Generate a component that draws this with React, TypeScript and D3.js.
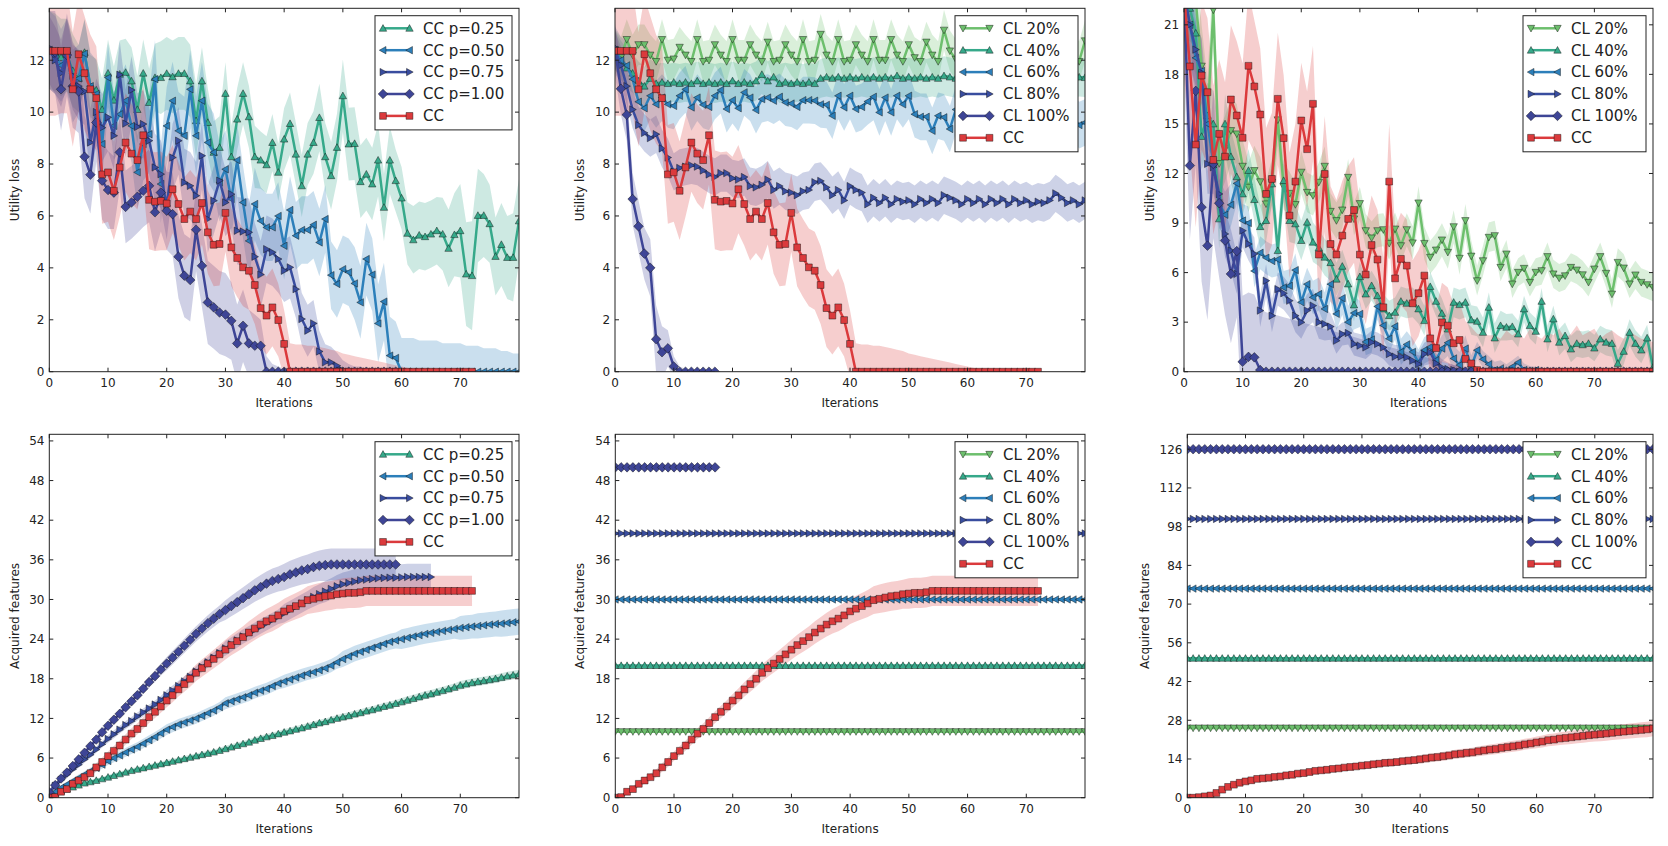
import React from "react";
import * as d3 from "d3";

// ---------------- shared axis data ----------------
const X_TICKS = [0, 10, 20, 30, 40, 50, 60, 70];
const X_MAX = 80;
const LOSS_TICKS = [0, 2, 4, 6, 8, 10, 12];
const LOSS3_TICKS = [0, 3, 6, 9, 12, 15, 18, 21];
const FEAT_TICKS = [0, 6, 12, 18, 24, 30, 36, 42, 48, 54];
const FEAT6_TICKS = [0, 14, 28, 42, 56, 70, 84, 98, 112, 126];

const CC_P_LABELS = ["CC p=0.25", "CC p=0.50", "CC p=0.75", "CC p=1.00", "CC"];
const CL_LABELS = ["CL 20%", "CL 40%", "CL 60%", "CL 80%", "CL 100%", "CC"];

// ---------------- panel 1 : utility loss, CC p ----------------
const p1_p25 = [12.4,12.3,12.1,12.2,11.6,11.3,12.3,11.0,10.85,10.1,
  11.5,10.46,11.46,11.53,11.2,10.1,11.5,10.37,11.33,11.33,
  11.49,11.36,11.49,11.49,11.2,9.67,11.2,9.6,8.45,8.64,
  10.72,8.28,9.73,10.72,9.82,8.28,8.15,7.97,8.83,7.68,
  8.96,9.56,8.38,7.16,8.38,8.83,9.79,8.28,7.55,8.64,
  10.63,8.77,8.79,7.32,7.61,7.23,8.15,6.33,8.15,7.36,
  6.69,5.33,5.08,5.26,5.2,5.3,5.43,5.3,4.75,5.28,
  5.43,3.76,3.7,6.02,6.02,5.7,4.44,4.9,4.4,4.4,5.81];
const p1_p25_sd = [1.5,1.5,1.5,1.4,1.4,1.3,1.3,1.2,1.2,1.2,
  1.3,1.3,1.3,1.3,1.3,1.3,1.3,1.3,1.3,1.4,
  1.4,1.4,1.4,1.4,1.4,1.4,1.3,1.3,1.2,1.2,
  1.2,1.2,1.2,1.2,1.2,1.2,1.1,1.1,1.1,1.1,
  1.2,1.2,1.2,1.2,1.2,1.2,1.3,1.3,1.3,1.3,
  1.4,1.4,1.4,1.4,1.4,1.4,1.4,1.3,1.3,1.2,
  1.2,1.2,1.3,1.3,1.3,1.3,1.3,1.4,1.5,1.6,
  1.8,2.0,2.1,1.8,1.6,1.5,1.5,1.6,1.6,1.7,1.6];
const p1_p50 = [12.4,12.2,11.8,12.2,11.0,11.3,12.25,11.0,10.7,8.77,
  11.33,9.47,9.92,10.44,9.47,7.68,8.77,9.15,11.27,7.23,
  9.47,10.44,9.28,9.09,10.88,9.09,10.44,8.83,8.45,7.29,
  7.8,6.65,8.15,6.52,5.04,6.46,5.81,5.56,5.56,6.0,
  4.85,6.23,5.24,5.46,5.46,5.66,4.98,5.88,3.72,3.38,
  3.95,3.83,3.4,2.67,4.34,3.74,1.86,2.7,0.62,0.53,
  0,0,0,0,0,0,0,0,0,0,
  0,0,0,0,0,0,0,0,0,0,0];
const p1_p50_sd = [1.5,1.5,1.4,1.4,1.4,1.3,1.3,1.3,1.3,1.3,
  1.3,1.3,1.4,1.4,1.4,1.4,1.4,1.5,1.5,1.5,
  1.5,1.5,1.5,1.5,1.5,1.5,1.5,1.5,1.5,1.5,
  1.5,1.4,1.4,1.4,1.4,1.4,1.3,1.3,1.3,1.3,
  1.3,1.3,1.3,1.3,1.3,1.3,1.3,1.3,1.3,1.3,
  1.3,1.3,1.4,1.4,1.4,1.4,1.5,1.5,1.5,1.4,
  1.3,1.3,1.3,1.2,1.2,1.2,1.2,1.1,1.1,1.1,
  1.1,1.0,1.0,1.0,0.9,0.9,0.9,0.8,0.8,0.7,0.7];
const p1_p75 = [12.4,12.0,11.5,12.3,11.4,11.0,10.8,8.83,10.0,9.4,
  9.8,9.09,11.44,9.56,10.85,9.43,9.54,8.9,7.87,7.61,
  6.39,8.25,8.9,7.29,7.16,6.78,8.32,5.88,6.59,7.36,
  6.52,6.84,5.43,5.4,5.37,4.43,3.74,4.72,4.6,4.34,
  3.89,4.02,3.18,2.03,1.58,1.86,0.78,0.36,0.36,0.23,
  0.04,0,0,0,0,0,0,0,0,0,
  0,0,0,0,0,0];
const p1_p75_sd = [1.3,1.3,1.3,1.3,1.3,1.3,1.3,1.3,1.3,1.3,
  1.3,1.3,1.3,1.3,1.3,1.3,1.3,1.3,1.3,1.3,
  1.3,1.3,1.3,1.3,1.3,1.3,1.3,1.3,1.3,1.3,
  1.3,1.3,1.3,1.3,1.3,1.3,1.3,1.3,1.3,1.3,
  1.2,1.2,1.1,1.0,1.0,0.9,0.8,0.7,0.6,0.5,
  0.4,0.3,0.2,0.2,0.1,0.1,0.1,0,0,0,
  0,0,0,0,0,0];
const p1_p100 = [12.4,12.3,10.88,12.2,11.0,10.8,8.28,7.59,9.6,7.36,
  7.0,6.9,8.45,6.35,6.52,6.74,6.97,7.16,6.14,6.9,
  6.2,6.07,4.43,3.7,3.53,5.47,4.08,2.67,2.48,2.28,
  2.2,1.96,1.09,1.77,1.09,1.0,1.0,0,0,0,
  0,0,0,0,0,0,0,0,0,0,
  0,0,0,0,0,0,0,0,0,0];
const p1_p100_sd = [1.5,1.6,1.6,1.6,1.6,1.6,1.6,1.5,1.5,1.5,
  1.5,1.4,1.4,1.4,1.4,1.4,1.4,1.4,1.5,1.5,
  1.5,1.6,1.6,1.6,1.6,1.6,1.6,1.6,1.6,1.6,
  1.6,1.5,1.5,1.4,1.3,1.2,1.0,0.6,0.3,0.2,
  0.1,0.05,0,0,0,0,0,0,0,0,
  0,0,0,0,0,0,0,0,0,0];
// CC loss (shared by panels 1 and 2)
const cc_loss = [12.36,12.36,12.36,12.36,10.88,12.23,11.5,10.88,10.54,7.6,
  7.68,6.97,7.87,8.83,8.4,8.15,9.11,6.62,6.55,6.58,
  6.48,7.03,6.46,5.88,6.17,5.88,6.5,5.37,4.89,4.92,
  6.12,4.79,4.38,4.02,3.89,3.34,2.45,2.16,2.48,1.99,
  1.07,0,0,0,0,0,0,0,0,0,
  0,0,0,0,0,0,0,0,0,0,
  0,0,0,0,0,0,0,0,0,0,
  0,0,0];
const cc_loss_sd = [2.5,2.5,2.4,2.4,2.2,2.2,2.2,2.1,2.0,1.9,
  1.9,1.9,1.9,1.9,1.9,1.9,1.9,1.9,1.9,1.9,
  1.8,1.7,1.6,1.6,1.6,1.6,1.6,1.6,1.6,1.6,
  1.5,1.5,1.5,1.5,1.5,1.5,1.5,1.5,1.5,1.4,
  1.3,1.1,1.05,1.05,1.0,1.0,0.95,0.9,0.85,0.8,
  0.7,0.65,0.6,0.55,0.5,0.45,0.4,0.35,0.3,0.25,
  0.2,0.15,0.1,0.1,0.05,0.05,0.05,0.05,0.05,0.05,
  0.05,0.05,0.05];

// ---------------- panel 2 : utility loss, CL ----------------
const p2_cl20 = [12.4,12.1,12.8,12.2,12.6,12.6,12.2,11.95,12.8,12.0,
  12.05,12.5,12.2,11.95,12.8,11.95,12.0,12.6,12.2,11.95,
  12.8,12.0,12.0,12.6,12.2,11.95,12.7,11.95,12.0,12.6,
  12.2,11.95,12.8,11.95,12.0,13.0,12.2,11.95,12.8,11.95,
  12.0,12.6,12.2,11.95,12.8,12.0,12.0,12.8,12.2,11.95,
  12.6,12.1,11.95,12.7,12.2,11.95,13.16,12.36,12.04,12.7,
  12.2,11.95,12.8,12.0,12.0,12.6,12.2,11.95,12.8,12.0,
  12.0,12.6,12.2,11.95,12.8,12.0,12.0,12.6,12.2,11.95,12.75];
const p2_cl20_sd = 0.78;
const p2_cl40 = [12.4,12.0,11.7,11.5,11.2,11.0,11.3,11.1,11.15,11.1,
  11.15,11.1,11.15,11.1,11.2,11.1,11.15,11.1,11.15,11.1,
  11.2,11.1,11.15,11.1,11.2,11.45,11.2,11.35,11.1,11.15,
  11.1,11.15,11.1,11.15,11.1,11.3,11.35,11.3,11.35,11.3,
  11.35,11.3,11.35,11.3,11.35,11.3,11.35,11.3,11.4,11.3,
  11.35,11.3,11.35,11.3,11.35,11.3,11.4,11.35,11.3,11.35,
  11.3,11.35,11.3,11.35,11.3,11.4,11.3,11.35,11.3,11.35,
  11.3,11.35,11.3,11.35,11.3,11.4,11.3,11.35,11.3,11.35,11.33];
const p2_cl40_sd = 0.75;
const p2_cl60 = [12.4,12.0,11.8,11.27,10.4,10.15,10.63,10.3,10.56,10.3,
  10.24,10.63,10.88,10.18,10.56,10.28,10.2,10.63,10.85,10.12,
  10.46,10.15,10.76,10.56,10.08,10.5,10.56,10.44,10.59,10.37,
  10.33,10.2,10.46,10.46,10.44,10.3,10.28,9.86,10.63,10.18,
  10.63,10.12,10.2,10.41,10.59,9.99,10.56,9.99,10.63,10.3,
  10.63,9.92,9.82,9.82,9.28,9.86,9.8,9.35,10.1,9.6,
  10.3,10.5,9.9,10.4,9.8,10.2,9.4,9.9,10.3,9.7,
  10.2,9.5,10.0,9.8,10.3,9.6,10.0,9.5,9.8,9.5,9.6];
const p2_cl60_sd = 0.9;
const p2_cl80 = [12.4,11.8,11.0,10.1,9.5,9.2,9.0,9.15,8.6,8.25,
  7.7,7.85,7.9,7.95,7.9,7.75,7.6,7.5,7.65,7.65,
  7.45,7.4,7.5,7.15,7.1,7.2,7.4,7.0,7.15,6.95,
  6.9,6.8,6.95,7.0,7.3,7.35,7.1,6.8,7.0,6.6,
  7.15,7.0,6.9,6.45,6.7,6.5,6.7,6.45,6.65,6.55,
  6.6,6.45,6.65,6.5,6.65,6.5,6.8,6.7,6.6,6.45,
  6.65,6.5,6.65,6.45,6.65,6.5,6.65,6.45,6.65,6.5,
  6.6,6.45,6.55,6.5,6.6,6.87,6.7,6.5,6.6,6.45,6.6];
const p2_cl80_sd = 0.72;
const p2_cl100 = [12.4,10.9,9.9,6.65,5.6,4.55,4.0,1.25,0.75,0.9,0.2,0,0,0,0,0,0,0];
const p2_cl100_sd = [1.0,1.0,1.0,1.0,1.0,1.0,1.1,1.3,1.0,0.7,0.4,0.2,0.1,0.05,0,0,0,0];

// ---------------- panel 3 : utility loss, CL (second dataset) ----------------
const p3_cl20 = [23,23,22.5,18.5,15.2,21.9,12.6,13.5,14.6,14.4,
  12.44,11.17,12.18,11.5,10.16,11.47,15.25,11.2,10.8,10.12,
  12.08,10.86,10.66,11.47,12.44,9.71,9.15,9.79,11.77,9.25,
  10.18,8.54,8.1,8.54,8.6,7.77,8.64,7.63,8.6,7.8,
  10.22,7.77,6.93,7.37,7.98,7.23,8.78,6.87,9.15,7.0,
  5.51,6.72,8.14,8.24,6.32,7.13,5.31,6.02,6.26,5.41,
  6.02,6.12,6.97,5.92,5.67,5.81,6.32,6.16,5.87,5.41,
  6.22,6.97,5.96,4.7,6.62,6.28,5.31,5.86,5.41,5.27,5.11];
const p3_cl20_sd = [3,3,3,2.5,2.5,2.5,2,2,2,1.8,
  1.6,1.5,1.5,1.5,1.4,1.4,1.6,1.4,1.3,1.3,
  1.3,1.2,1.2,1.2,1.2,1.1,1.1,1.1,1.1,1.0,
  1.0,1.0,1.0,1.0,1.0,1.0,1.0,1.0,1.0,1.0,
  1.0,1.0,1.0,1.0,1.0,1.0,1.0,1.0,1.0,0.95,
  0.9,0.9,0.9,0.9,0.85,0.85,0.85,0.85,0.85,0.85,
  0.85,0.85,0.85,0.85,0.85,0.85,0.85,0.85,0.85,0.85,
  0.85,0.85,0.85,0.85,0.85,0.85,0.85,0.85,0.85,0.85,0.85];
const p3_cl40 = [23,22,20.5,14.24,15.5,15.0,9.25,15.0,13.02,11.8,
  10.76,12.18,10.42,8.78,9.15,11.37,7.33,11.57,9.15,8.95,
  7.94,9.05,7.84,7.5,6.93,6.6,5.6,6.38,5.31,4.04,
  5.75,4.7,5.21,4.6,3.8,3.39,3.59,4.26,4.14,4.2,
  3.8,3.09,5.15,4.26,3.53,2.58,4.2,4.06,4.2,3.13,
  3.05,2.38,3.9,2.04,2.79,2.69,2.73,2.28,3.8,2.79,
  2.44,4.26,1.98,3.19,1.78,2.18,1.37,1.71,1.63,1.71,
  1.43,1.98,1.78,1.71,0.5,1.23,2.38,1.71,1.31,2.04,0.26];
const p3_cl40_sd = [3,3,2.5,2,2,2,1.8,1.8,1.6,1.5,
  1.3,1.3,1.3,1.3,1.3,1.3,1.3,1.3,1.3,1.2,
  1.2,1.2,1.2,1.1,1.1,1.1,1.0,1.0,1.0,1.0,
  0.9,0.9,0.9,0.9,0.9,0.9,0.9,0.9,0.9,0.9,
  0.9,0.9,0.9,0.9,0.9,0.9,0.9,0.9,0.9,0.9,
  0.9,0.9,0.9,0.9,0.9,0.8,0.8,0.8,0.8,0.8,
  0.8,0.8,0.8,0.8,0.8,0.8,0.8,0.8,0.8,0.8,
  0.8,0.8,0.8,0.8,0.8,0.8,0.8,0.8,0.8,0.8,0.8];
const p3_cl60 = [23,21,19,18.2,15.0,12.7,10.2,9.5,10.1,11.4,
  9.15,9.0,6.1,7.2,6.9,6.7,6.8,5.1,5.2,6.15,
  4.2,5.3,4.5,4.7,3.8,5.3,3.5,4.45,3.0,3.55,
  3.5,1.8,1.95,3.95,2.8,2.0,2.75,1.2,1.65,1.2,
  0.55,1.3,1.5,0.7,1.4,1.75,0.8,0.4,1.4,0.3,
  1.3,0.75,0.45,0.1,0.2,0.05,0.3,0.56,0.1,0.05,
  0.1,0,0,0,0,0,0,0,0,0,
  0,0,0,0,0,0,0,0,0,0,0];
const p3_cl60_sd = [2.5,2.5,2,2,1.8,1.6,1.5,1.4,1.3,1.2,
  1.0,1.0,1.0,1.0,1.0,1.0,1.0,1.0,1.0,1.0,
  1.0,1.0,1.0,1.0,1.0,1.0,1.0,1.0,1.0,1.0,
  0.8,0.8,0.8,0.8,0.8,0.8,0.8,0.8,0.8,0.8,
  0.8,0.8,0.8,0.8,0.8,0.8,0.8,0.8,0.8,0.7,
  0.5,0.5,0.5,0.5,0.5,0.4,0.4,0.4,0.4,0.3,
  0.2,0.2,0.2,0.2,0.2,0.2,0.2,0.2,0.2,0.2,
  0.2,0.2,0.2,0.2,0.2,0.2,0.2,0.2,0.2,0.2,0.2];
const p3_cl80 = [23,21,19.5,18.1,12.58,12.38,10.76,8.34,7.33,5.92,
  8.54,7.73,7.13,3.7,5.51,3.39,5.0,4.75,4.3,3.39,
  2.99,3.7,4.0,2.99,2.89,2.73,1.88,2.28,2.34,1.68,
  1.58,1.47,1.78,1.68,1.47,1.07,0.91,0.91,0.87,0.67,
  0.46,1.07,1.17,0.5,0.26,0.16,0.1,0,0,0,
  0,0,0,0,0,0,0,0,0,0,
  0,0,0,0,0,0,0,0,0,0,
  0,0,0,0,0,0,0,0,0,0,0];
const p3_cl80_sd = [2.5,2.4,2.2,2.0,1.8,1.6,1.5,1.4,1.3,1.2,
  1.0,1.0,1.0,1.0,1.0,1.0,1.0,1.0,1.0,1.0,
  1.0,1.0,1.0,1.0,1.0,0.8,0.8,0.7,0.7,0.7,
  0.7,0.7,0.7,0.7,0.7,0.7,0.7,0.7,0.7,0.7,
  0.7,0.7,0.7,0.6,0.5,0.4,0.3,0.3,0.3,0.3,
  0.3,0.2,0.2,0.2,0.2,0.1,0.1,0.1,0.1,0.1,
  0.1,0.1,0.1,0.1,0.1,0.1,0.1,0.1,0.1,0.1,
  0.1,0.1,0.1,0.1,0.1,0.1,0.1,0.1,0.1,0.1,0.1];
const p3_cl100 = [23,12.48,17.0,9.96,7.63,12.58,10.2,7.94,5.92,7.3,
  0.6,0.9,0.87,0.1,0,0,0,0,0,0,
  0,0,0,0,0,0,0,0,0,0,
  0,0,0,0,0,0,0,0,0,0,
  0,0,0,0,0,0,0,0,0,0,
  0,0,0,0,0,0,0,0,0,0,
  0,0,0,0,0,0,0,0,0,0,
  0,0,0,0,0,0,0,0,0,0,0];
const p3_cl100_sd = [4.5,4.5,4.5,4.5,4.5,4.5,4.5,4.5,4.2,4.0,
  4.0,3.9,3.8,3.7,3.6,3.5,3.4,3.3,3.2,3.1,
  3.0,2.9,2.8,2.7,2.6,2.5,2.4,2.3,2.2,2.1,
  2.0,1.9,1.8,1.7,1.6,1.5,1.4,1.3,1.2,1.1,
  1.0,0.9,0.8,0.7,0.6,0.5,0.4,0.3,0.3,0.2,
  0.1,0.1,0.1,0.1,0.1,0.1,0.1,0.1,0.1,0.1,
  0.1,0.1,0.1,0.1,0.1,0.1,0.1,0.1,0.1,0.1,
  0.1,0.1,0.1,0.1,0.1,0.1,0.1,0.1,0.1,0.1,0.1];
const p3_cc = [23,18.48,13.75,17.93,16.92,12.82,14.4,13.02,16.48,15.51,
  14.16,18.52,17.27,15.57,10.76,11.67,16.52,14.14,9.45,11.51,
  15.21,13.47,16.22,7.09,11.97,7.73,7.09,8.24,9.25,9.79,
  7.09,5.88,7.67,6.79,3.9,11.51,5.65,6.83,6.42,4.14,
  4.75,5.82,2.02,1.43,2.99,2.79,1.72,1.92,0.77,0.5,
  0.1,0,0,0,0,0,0,0,0,0,
  0,0,0,0,0,0,0,0,0,0,
  0,0,0,0,0,0,0,0,0,0,0];
const p3_cc_sd = [5,5,5,4.5,4.5,4.5,4.5,4.5,4.5,4.5,
  4.5,4.5,4.0,4.0,4.0,4.0,4.0,3.8,3.8,3.5,
  3.5,3.5,3.5,3.5,3.5,3.5,3.3,3.3,3.2,3.2,
  3.0,3.0,3.0,3.0,3.0,3.5,3.0,2.8,2.8,2.6,
  2.6,2.5,2.5,2.4,2.4,2.3,2.3,2.3,2.3,2.2,
  2.2,2.2,2.2,2.2,2.0,2.5,2.2,2.4,2.0,2.6,
  2.2,2.0,2.4,2.2,2.6,2.0,2.3,2.8,2.2,2.4,
  2.6,2.0,2.3,2.5,2.2,2.0,2.4,2.2,2.0,1.9,1.8];

// ---------------- panel 4 : acquired features, CC p ----------------
const p4_p25 = [0.1,0.6,1.0,1.3,1.6,1.9,2.2,2.4,2.6,2.85,
  3.1,3.35,3.6,3.85,4.1,4.3,4.5,4.7,4.9,5.1,
  5.3,5.5,5.7,5.9,6.1,6.3,6.5,6.7,6.9,7.15,
  7.4,7.65,7.9,8.15,8.4,8.7,8.95,9.2,9.4,9.65,
  9.9,10.1,10.35,10.55,10.8,11.05,11.3,11.5,11.75,12.0,
  12.2,12.4,12.65,12.85,13.1,13.3,13.55,13.8,14.0,14.25,
  14.5,14.75,15.0,15.25,15.5,15.7,15.95,16.2,16.45,16.7,
  17.0,17.2,17.4,17.55,17.7,17.85,18.0,18.2,18.4,18.55,18.7];
const p4_p25_sd = [0.1,0.15,0.2,0.2,0.25,0.25,0.3,0.3,0.3,0.3,
  0.35,0.35,0.35,0.35,0.35,0.35,0.35,0.35,0.35,0.35,
  0.4,0.4,0.4,0.4,0.4,0.4,0.4,0.4,0.4,0.4,
  0.45,0.45,0.45,0.45,0.45,0.45,0.45,0.45,0.45,0.45,
  0.5,0.5,0.5,0.5,0.5,0.5,0.5,0.5,0.5,0.5,
  0.55,0.55,0.55,0.55,0.55,0.55,0.55,0.55,0.55,0.55,
  0.6,0.6,0.6,0.6,0.6,0.6,0.6,0.6,0.6,0.6,
  0.65,0.65,0.65,0.65,0.65,0.65,0.65,0.65,0.65,0.65,0.65];
const p4_p50 = [0.3,0.9,1.5,2.0,2.5,3.0,3.5,4.0,4.5,5.0,
  5.55,6.0,6.4,6.85,7.3,7.7,8.2,8.7,9.2,9.75,
  10.3,10.7,11.1,11.4,11.7,12.0,12.4,12.8,13.2,13.7,
  14.3,14.6,14.9,15.2,15.5,15.9,16.2,16.5,16.9,17.3,
  17.6,17.9,18.2,18.5,18.8,19.0,19.3,19.6,20.0,20.5,
  21.0,21.4,21.8,22.1,22.4,22.7,23.0,23.3,23.6,23.8,
  24.0,24.2,24.4,24.6,24.8,24.95,25.1,25.25,25.4,25.55,
  25.7,25.8,25.9,26.0,26.1,26.2,26.3,26.35,26.45,26.55,26.65];
const p4_p50_sd = [0.2,0.3,0.35,0.4,0.45,0.5,0.5,0.55,0.55,0.6,
  0.6,0.62,0.64,0.66,0.68,0.7,0.72,0.74,0.76,0.78,
  0.8,0.8,0.8,0.8,0.8,0.8,0.8,0.8,0.8,0.8,
  0.9,0.9,0.9,0.9,0.9,0.9,0.9,0.9,0.9,0.9,
  1.0,1.0,1.0,1.0,1.0,1.0,1.0,1.0,1.0,1.0,
  1.2,1.2,1.2,1.2,1.2,1.2,1.2,1.2,1.2,1.2,
  1.5,1.5,1.5,1.5,1.5,1.5,1.5,1.5,1.5,1.5,
  1.8,1.8,1.8,1.9,1.9,1.9,1.9,2.0,2.0,2.0,2.0];
const p4_p75 = [0.9,1.8,2.7,3.5,4.3,5.0,5.8,6.5,7.3,8.1,
  8.9,9.6,10.3,11.0,11.6,12.3,12.9,13.5,14.1,14.8,
  15.5,16.2,16.9,17.6,18.3,19.1,19.8,20.5,21.2,21.9,
  22.6,23.2,23.8,24.4,24.9,25.4,25.9,26.4,26.9,27.4,
  27.9,28.4,28.9,29.4,29.9,30.4,30.8,31.2,31.6,32.0,
  32.3,32.5,32.7,32.9,33.0,33.1,33.2,33.25,33.3,33.3,
  33.35,33.4,33.4,33.4,33.4,33.4];
const p4_p75_sd = [0.3,0.35,0.4,0.4,0.45,0.45,0.5,0.5,0.5,0.5,
  0.6,0.6,0.6,0.6,0.6,0.6,0.6,0.6,0.6,0.6,
  0.8,0.8,0.8,0.8,0.8,0.8,0.8,0.8,0.8,0.8,
  1.1,1.1,1.1,1.1,1.1,1.1,1.1,1.1,1.1,1.1,
  1.4,1.4,1.4,1.4,1.4,1.5,1.5,1.6,1.6,1.7,
  1.8,1.8,1.9,1.9,1.9,2.0,2.0,2.0,2.0,2.0,
  2.0,2.0,2.0,2.0,2.0,2.0];
const p4_p100 = [0.8,1.9,2.9,3.8,4.8,5.8,6.8,7.8,8.8,9.9,
  10.9,11.8,12.7,13.7,14.6,15.5,16.5,17.5,18.4,19.4,
  20.3,21.2,22.1,23.0,23.9,24.8,25.6,26.4,27.1,27.8,
  28.4,29.0,29.6,30.2,30.8,31.4,31.9,32.4,32.8,33.1,
  33.4,33.8,34.1,34.4,34.6,34.9,35.1,35.2,35.3,35.3,
  35.3,35.3,35.3,35.3,35.3,35.3,35.3,35.3,35.3,35.3];
const p4_p100_sd = [0.3,0.35,0.4,0.45,0.5,0.5,0.55,0.55,0.6,0.6,
  0.7,0.72,0.74,0.76,0.78,0.8,0.82,0.85,0.88,0.9,
  1.0,1.03,1.06,1.1,1.13,1.16,1.2,1.23,1.26,1.3,
  1.5,1.55,1.6,1.65,1.7,1.75,1.8,1.85,1.9,1.9,
  2.0,2.05,2.1,2.15,2.2,2.25,2.3,2.4,2.4,2.4,
  2.4,2.4,2.4,2.4,2.4,2.4,2.4,2.4,2.4,2.4];
// CC acquired features (shared by panels 4 and 5)
const cc_feat = [0.0,0.1,0.9,1.3,2.1,2.6,3.1,3.7,4.6,5.4,
  6.3,7.1,7.9,8.8,9.7,10.4,11.3,12.2,13.0,13.8,
  14.7,15.5,16.4,17.2,18.0,18.9,19.6,20.3,21.0,21.7,
  22.4,23.1,23.7,24.3,25.0,25.6,26.2,26.7,27.1,27.6,
  28.2,28.6,29.0,29.4,29.9,30.1,30.3,30.5,30.6,30.8,
  30.9,31.0,31.0,31.1,31.3,31.3,31.3,31.3,31.3,31.3,
  31.3,31.3,31.3,31.3,31.3,31.3,31.3,31.3,31.3,31.3,
  31.3,31.3,31.3];
const cc_feat_sd = [0.1,0.2,0.3,0.4,0.45,0.5,0.55,0.6,0.65,0.7,
  0.7,0.73,0.76,0.79,0.82,0.85,0.88,0.9,0.93,0.95,
  1.0,1.05,1.1,1.15,1.2,1.25,1.3,1.35,1.4,1.45,
  1.5,1.55,1.6,1.65,1.7,1.75,1.8,1.85,1.9,1.9,
  1.9,1.95,2.0,2.05,2.1,2.15,2.2,2.2,2.2,2.2,
  2.3,2.3,2.3,2.3,2.3,2.3,2.3,2.3,2.3,2.3,
  2.3,2.3,2.3,2.3,2.3,2.3,2.3,2.3,2.3,2.3,
  2.3,2.3,2.3];

// ---------------- panel 5 : constant CL budgets ----------------
const p5_levels = [10, 20, 30, 40, 50];
const p5_lengths = [81, 81, 81, 81, 18];

// ---------------- panel 6 : constant CL budgets + CC ----------------
const p6_levels = [25.2, 50.4, 75.6, 100.8, 126];
const p6_lengths = [81, 81, 81, 81, 81];
const p6_cc = [0,0,0.2,0.5,0.8,1.7,2.9,3.9,4.7,5.4,
  5.9,6.3,6.8,7.0,7.2,7.5,7.7,8.1,8.3,8.7,
  8.9,9.3,9.7,9.9,10.1,10.4,10.6,10.9,11.1,11.3,
  11.6,11.8,12.1,12.3,12.6,12.7,12.9,13.2,13.4,13.6,
  13.9,14.2,14.5,14.7,15.0,15.3,15.7,15.9,16.2,16.4,
  16.8,17.1,17.4,17.6,18.0,18.3,18.6,18.9,19.3,19.6,
  20.0,20.3,20.8,21.0,21.4,21.6,21.85,22.1,22.35,22.6,
  22.8,23.0,23.2,23.45,23.7,23.9,24.1,24.3,24.5,24.7,25.0];
const p6_cc_sd = [0,0.1,0.2,0.3,0.4,0.5,0.6,0.6,0.7,0.7,
  0.7,0.72,0.74,0.76,0.78,0.8,0.82,0.85,0.88,0.9,
  0.9,0.92,0.95,0.98,1.0,1.02,1.05,1.07,1.1,1.1,
  1.2,1.22,1.25,1.28,1.3,1.32,1.35,1.38,1.4,1.4,
  1.5,1.52,1.55,1.58,1.6,1.62,1.65,1.68,1.7,1.7,
  1.8,1.82,1.85,1.88,1.9,1.92,1.95,1.98,2.0,2.0,
  2.1,2.15,2.2,2.25,2.3,2.35,2.4,2.4,2.45,2.45,
  2.5,2.55,2.6,2.6,2.65,2.7,2.7,2.75,2.75,2.8,2.8];

// ---------------- styling ----------------
type Marker = "^" | "v" | "<" | ">" | "D" | "s";
const COLORS = {
  green: "#6dbf6d",
  teal: "#36a98a",
  blue: "#2c7fba",
  navy: "#394d9f",
  indigo: "#3e4596",
  red: "#db3a3c",
};
const FONT = "DejaVu Sans, Liberation Sans, sans-serif";

interface Series {
  label: string;
  color: string;
  marker: Marker;
  values: number[];
  sd?: number[] | number;
}
interface Panel {
  left: number; right: number; top: number; bottom: number;
  yMax: number; yTicks: number[]; yLabel: string; yLabelX: number;
  legendW: number; series: Series[];
}

const constSeries = (level: number, n: number) => Array.from({ length: n }, () => level);

const ccpSeries = (vals: number[][], sds: (number[] | number)[]): Series[] => [
  { label: CC_P_LABELS[0], color: COLORS.teal, marker: "^", values: vals[0], sd: sds[0] },
  { label: CC_P_LABELS[1], color: COLORS.blue, marker: "<", values: vals[1], sd: sds[1] },
  { label: CC_P_LABELS[2], color: COLORS.navy, marker: ">", values: vals[2], sd: sds[2] },
  { label: CC_P_LABELS[3], color: COLORS.indigo, marker: "D", values: vals[3], sd: sds[3] },
  { label: CC_P_LABELS[4], color: COLORS.red, marker: "s", values: vals[4], sd: sds[4] },
];
const clSeries = (vals: number[][], sds: (number[] | number | undefined)[]): Series[] => [
  { label: CL_LABELS[0], color: COLORS.green, marker: "v", values: vals[0], sd: sds[0] },
  { label: CL_LABELS[1], color: COLORS.teal, marker: "^", values: vals[1], sd: sds[1] },
  { label: CL_LABELS[2], color: COLORS.blue, marker: "<", values: vals[2], sd: sds[2] },
  { label: CL_LABELS[3], color: COLORS.navy, marker: ">", values: vals[3], sd: sds[3] },
  { label: CL_LABELS[4], color: COLORS.indigo, marker: "D", values: vals[4], sd: sds[4] },
  { label: CL_LABELS[5], color: COLORS.red, marker: "s", values: vals[5], sd: sds[5] },
];

const TOP = { top: 8.3, bottom: 371.7 };
const BOT = { top: 434.3, bottom: 797.7 };

const PANELS: Panel[] = [
  { left: 49.3, right: 519, ...TOP, yMax: 14, yTicks: LOSS_TICKS, yLabel: "Utility loss", yLabelX: 19.3, legendW: 137,
    series: ccpSeries([p1_p25, p1_p50, p1_p75, p1_p100, cc_loss], [p1_p25_sd, p1_p50_sd, p1_p75_sd, p1_p100_sd, cc_loss_sd]) },
  { left: 615, right: 1085, ...TOP, yMax: 14, yTicks: LOSS_TICKS, yLabel: "Utility loss", yLabelX: 584, legendW: 123,
    series: clSeries([p2_cl20, p2_cl40, p2_cl60, p2_cl80, p2_cl100, cc_loss], [p2_cl20_sd, p2_cl40_sd, p2_cl60_sd, p2_cl80_sd, p2_cl100_sd, cc_loss_sd]) },
  { left: 1184, right: 1653, ...TOP, yMax: 22, yTicks: LOSS3_TICKS, yLabel: "Utility loss", yLabelX: 1153.5, legendW: 123,
    series: clSeries([p3_cl20, p3_cl40, p3_cl60, p3_cl80, p3_cl100, p3_cc], [p3_cl20_sd, p3_cl40_sd, p3_cl60_sd, p3_cl80_sd, p3_cl100_sd, p3_cc_sd]) },
  { left: 49.3, right: 519, ...BOT, yMax: 55, yTicks: FEAT_TICKS, yLabel: "Acquired features", yLabelX: 19, legendW: 137,
    series: ccpSeries([p4_p25, p4_p50, p4_p75, p4_p100, cc_feat], [p4_p25_sd, p4_p50_sd, p4_p75_sd, p4_p100_sd, cc_feat_sd]) },
  { left: 615.3, right: 1085, ...BOT, yMax: 55, yTicks: FEAT_TICKS, yLabel: "Acquired features", yLabelX: 584, legendW: 123,
    series: clSeries([...p5_levels.map((l, i) => constSeries(l, p5_lengths[i])), cc_feat], [undefined, undefined, undefined, undefined, undefined, cc_feat_sd]) },
  { left: 1187.3, right: 1653, ...BOT, yMax: 131.4, yTicks: FEAT6_TICKS, yLabel: "Acquired features", yLabelX: 1149, legendW: 123,
    series: clSeries([...p6_levels.map((l, i) => constSeries(l, p6_lengths[i])), p6_cc], [undefined, undefined, undefined, undefined, undefined, p6_cc_sd]) },
];

function markerPath(m: Marker): string {
  const r = 3.7;
  switch (m) {
    case "^": return `M0,${-r}L${r},${r * 0.8}L${-r},${r * 0.8}Z`;
    case "v": return `M0,${r}L${r},${-r * 0.8}L${-r},${-r * 0.8}Z`;
    case "<": return `M${-r},0L${r * 0.8},${-r}L${r * 0.8},${r}Z`;
    case ">": return `M${r},0L${-r * 0.8},${-r}L${-r * 0.8},${r}Z`;
    case "D": { const d = 4.8; return `M0,${-d}L${d},0L0,${d}L${-d},0Z`; }
    case "s": { const s = 3.4; return `M${-s},${-s}H${s}V${s}H${-s}Z`; }
  }
}

const sdAt = (s: Series, i: number) =>
  s.sd === undefined ? 0 : typeof s.sd === "number" ? s.sd : (s.sd[i] ?? 0);

function PanelView({ p, idx }: { p: Panel; idx: number }) {
  const x = d3.scaleLinear().domain([0, X_MAX]).range([p.left, p.right]);
  const y = d3.scaleLinear().domain([0, p.yMax]).range([p.bottom, p.top]);
  const clipId = `clip-${idx}`;
  const line = d3.line<number>().x((_, i) => x(i)).y((v) => y(v));
  const n = p.series.length;
  const lx = p.right - 7 - p.legendW;
  const ly = p.top + 7.4;
  const lh = 12.6 + (n - 1) * 21.9 + 14;
  const stroke = "#222";

  return (
    <g>
      <defs>
        <clipPath id={clipId}>
          <rect x={p.left} y={p.top} width={p.right - p.left} height={p.bottom - p.top} />
        </clipPath>
      </defs>
      <g clipPath={`url(#${clipId})`}>
        {p.series.map((s, si) =>
          s.sd === undefined ? null : (
            <path key={`b${si}`}
              d={d3.area<number>().x((_, i) => x(i)).y0((v, i) => y(v - sdAt(s, i))).y1((v, i) => y(v + sdAt(s, i)))(s.values) || ""}
              fill={s.color} fillOpacity={0.25} stroke="none" />
          )
        )}
        {p.series.map((s, si) => (
          <g key={`l${si}`}>
            <path d={line(s.values) || ""} fill="none" stroke={s.color} strokeWidth={2.5} strokeLinejoin="round" />
            {s.values.map((v, i) => (
              <path key={i} d={markerPath(s.marker)} transform={`translate(${x(i)},${y(v)})`}
                fill={s.color} stroke="#111" strokeOpacity={0.75} strokeWidth={0.6} />
            ))}
          </g>
        ))}
      </g>
      <rect x={p.left} y={p.top} width={p.right - p.left} height={p.bottom - p.top} fill="none" stroke={stroke} strokeWidth={1} />
      {X_TICKS.map((t) => (
        <g key={`xt${t}`}>
          <line x1={x(t)} x2={x(t)} y1={p.bottom} y2={p.bottom - 4} stroke={stroke} />
          <line x1={x(t)} x2={x(t)} y1={p.top} y2={p.top + 4} stroke={stroke} />
          <text x={x(t)} y={p.bottom + 15} textAnchor="middle" fontSize={12} fontFamily={FONT} fill="#222">{t}</text>
        </g>
      ))}
      {p.yTicks.map((t) => (
        <g key={`yt${t}`}>
          <line x1={p.left} x2={p.left + 4} y1={y(t)} y2={y(t)} stroke={stroke} />
          <line x1={p.right} x2={p.right - 4} y1={y(t)} y2={y(t)} stroke={stroke} />
          <text x={p.left - 4.8} y={y(t) + 4.3} textAnchor="end" fontSize={12} fontFamily={FONT} fill="#222">{t}</text>
        </g>
      ))}
      <text x={(p.left + p.right) / 2} y={p.bottom + 35} textAnchor="middle" fontSize={12} fontFamily={FONT} fill="#222">Iterations</text>
      <text transform={`translate(${p.yLabelX},${(p.top + p.bottom) / 2}) rotate(-90)`} textAnchor="middle"
        fontSize={12} fontFamily={FONT} fill="#222">{p.yLabel}</text>
      <rect x={lx} y={ly} width={p.legendW} height={lh} fill="#fff" stroke={stroke} strokeWidth={1} />
      {p.series.map((s, k) => {
        const cy = ly + 12.6 + k * 21.9;
        const x1 = lx + 8, x2 = lx + 34.5;
        return (
          <g key={`lg${k}`}>
            <line x1={x1} x2={x2} y1={cy} y2={cy} stroke={s.color} strokeWidth={2.5} />
            <path d={markerPath(s.marker)} transform={`translate(${x1},${cy})`} fill={s.color} stroke="#111" strokeOpacity={0.75} strokeWidth={0.6} />
            <path d={markerPath(s.marker)} transform={`translate(${x2},${cy})`} fill={s.color} stroke="#111" strokeOpacity={0.75} strokeWidth={0.6} />
            <text x={lx + 48} y={cy + 5.3} fontSize={15} fontFamily={FONT} fill="#222">{s.label}</text>
          </g>
        );
      })}
    </g>
  );
}

export default function App() {
  return (
    <svg width={1668} height={846} viewBox="0 0 1668 846"
      style={{ position: "absolute", left: 0, top: 0, display: "block", background: "#fff" }}>
      <rect x={0} y={0} width={1668} height={846} fill="#fff" />
      {PANELS.map((p, i) => <PanelView key={i} p={p} idx={i} />)}
    </svg>
  );
}
